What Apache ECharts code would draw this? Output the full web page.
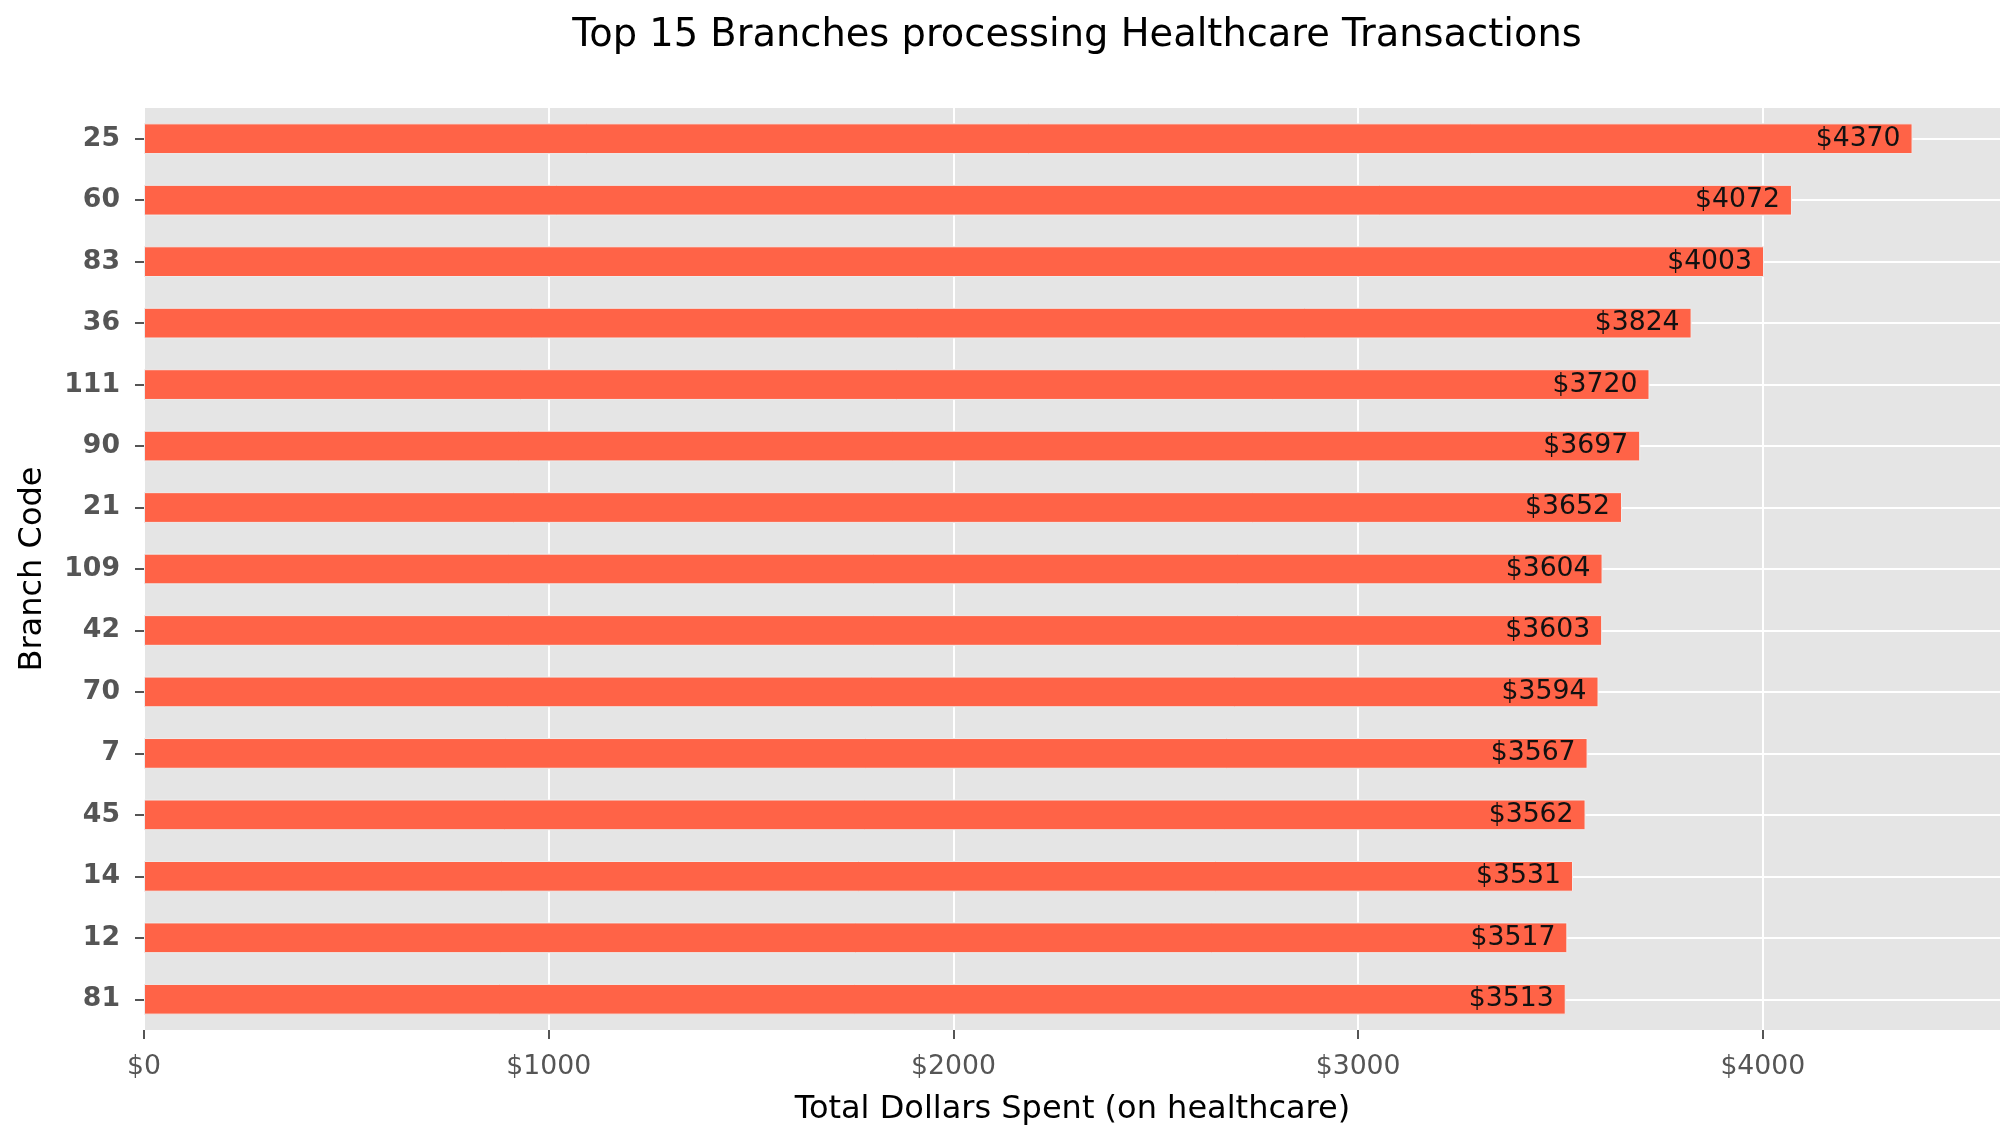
<!DOCTYPE html>
<html>
<head>
<meta charset="utf-8">
<script src="https://cdn.jsdelivr.net/npm/echarts@6/dist/echarts.min.js"></script>
<style>
html,body{margin:0;padding:0;background:#fff;}
#chart{width:2014px;height:1142px;}
</style>
</head>
<body>
<div id="chart"></div>
<script>
const branches = ['25','60','83','36','111','90','21','109','42','70','7','45','14','12','81'];
const totals = [4370,4072,4003,3824,3720,3697,3652,3604,3603,3594,3567,3562,3531,3517,3513];
const xTicks = [0,1000,2000,3000,4000];

const FONT = 'DejaVu Sans';
const chart = echarts.init(document.getElementById('chart'), null, {renderer:'canvas'});
const xMax = Math.max(...totals) * 1.05;
chart.setOption({
  backgroundColor: '#ffffff',
  animation: false,
  title: {
    text: 'Top 15 Branches processing Healthcare Transactions',
    left: 1072,
    textAlign: 'center',
    top: 12,
    textStyle: {fontFamily: FONT, fontSize: 38.4, fontWeight: 'normal', color: '#000'}
  },
  grid: {
    left: 144, right: 13, top: 108, bottom: 112,
    show: true, backgroundColor: '#E5E5E5', borderWidth: 0,
    containLabel: false
  },
  xAxis: {
    type: 'value',
    min: 0, max: xMax, interval: 1000,
    name: 'Total Dollars Spent (on healthcare)',
    nameLocation: 'middle',
    nameGap: 64,
    nameTextStyle: {fontFamily: FONT, fontSize: 32, color: '#000'},
    axisLine: {show: false},
    axisTick: {show: true, length: 9, lineStyle: {color: '#555', width: 2}},
    axisLabel: {
      fontFamily: FONT, fontSize: 26.7, color: '#555', margin: 24,
      showMaxLabel: false,
      formatter: v => xTicks.includes(v) ? '$' + v : ''
    },
    splitLine: {show: true, lineStyle: {color: '#ffffff', width: 2}}
  },
  yAxis: {
    type: 'category',
    data: branches,
    inverse: true,
    name: 'Branch Code',
    nameLocation: 'middle',
    nameGap: 95,
    nameRotate: 90,
    nameTextStyle: {fontFamily: FONT, fontSize: 32, color: '#000'},
    axisLine: {show: false},
    axisTick: {show: true, length: 9, alignWithLabel: true, lineStyle: {color: '#555', width: 2}},
    axisLabel: {fontFamily: FONT, fontSize: 26.7, fontWeight: 'bold', color: '#555', margin: 24},
    splitLine: {show: true, alignWithLabel: true, lineStyle: {color: '#ffffff', width: 2}}
  },
  series: [{
    type: 'bar',
    data: totals,
    barWidth: '50%',
    itemStyle: {color: '#FF6347', borderColor: '#EEEEEE', borderWidth: 1},
    label: {
      show: true,
      position: 'insideRight',
      distance: 12,
      formatter: p => '$' + p.value,
      fontFamily: FONT, fontSize: 26.7, color: '#111'
    }
  }]
});
</script>
</body>
</html>
